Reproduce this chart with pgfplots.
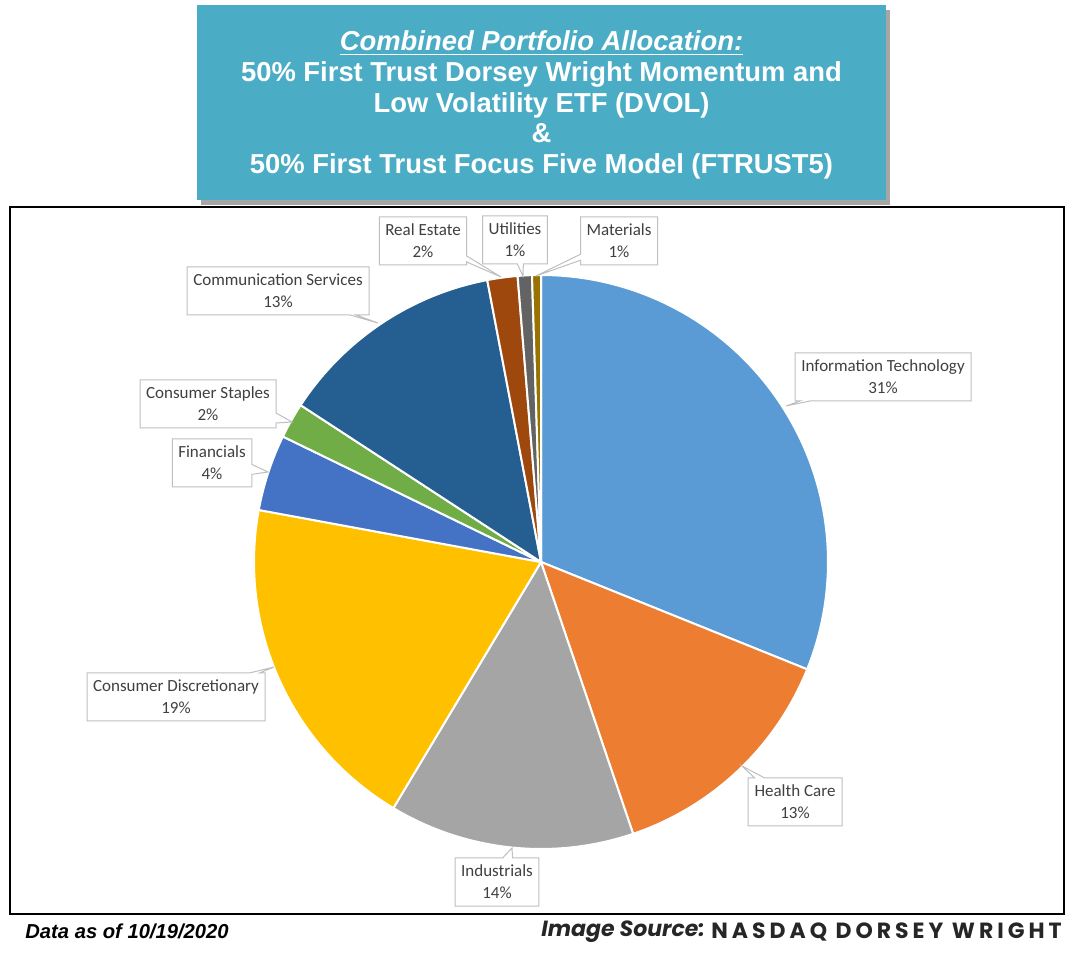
\documentclass[border=0pt]{standalone}
\usepackage{fontspec}
\setmainfont{Carlito}
\newfontfamily\arialf{Liberation Sans}
\newfontfamily\popf{Poppins}
\newfontfamily\popsp[LetterSpace=18]{Poppins}
\usepackage{pgfplots}
\pgfplotsset{compat=1.18}
\usetikzlibrary{shapes.callouts}
\definecolor{cIT}{HTML}{5B9BD5}
\definecolor{cHC}{HTML}{ED7D31}
\definecolor{cIND}{HTML}{A5A5A5}
\definecolor{cCD}{HTML}{FFC000}
\definecolor{cFIN}{HTML}{4472C4}
\definecolor{cCS}{HTML}{70AD47}
\definecolor{cCOM}{HTML}{255E91}
\definecolor{cRE}{HTML}{9E480E}
\definecolor{cUT}{HTML}{636363}
\definecolor{cMAT}{HTML}{997300}
\definecolor{titlebg}{HTML}{4BACC6}
\definecolor{lbltext}{HTML}{404040}
\definecolor{lblbox}{HTML}{BFBFBF}
% #1 cumulative start (%), #2 share (%), #3 colour
\newcommand\slice[3]{%
  \addplot[draw=white, line width=1pt, fill=#3, domain=90-3.6*(#1+#2):90-3.6*(#1), samples=80]
    ({541+287*cos(x)}, {390+287*sin(x)}) -- (axis cs:541,390) -- cycle;}
\tikzset{lbl/.style={rectangle callout, draw=lblbox, fill=white, text=lbltext, align=center,
  font=\fontsize{8.5}{11}\selectfont, inner xsep=3pt, inner ysep=1.5pt, minimum height=24pt,
  callout pointer width=5pt, line width=0.5pt}}
\begin{document}
\begin{tikzpicture}
\begin{axis}[at={(0,0)}, anchor=south west, width=540pt, height=476pt, scale only axis,
  xmin=0, xmax=1080, ymin=0, ymax=952, hide axis, clip=false]
\path (axis cs:0,0) rectangle (axis cs:1080,952);
% frame
\draw[black, line width=1.3pt] (axis cs:10,38) rectangle (axis cs:1064,745);
% pie slices (share in percent, clockwise from 12 o'clock)
\slice{0}{31.1}{cIT}
\slice{31.1}{13.7}{cHC}
\slice{44.8}{13.8}{cIND}
\slice{58.6}{19.3}{cCD}
\slice{77.9}{4.3}{cFIN}
\slice{82.2}{2.0}{cCS}
\slice{84.2}{12.8}{cCOM}
\slice{97.0}{1.7}{cRE}
\slice{98.7}{0.8}{cUT}
\slice{99.5}{0.5}{cMAT}
% labels
\node[lbl, minimum width=88pt, callout absolute pointer={(axis cs:786,546)}] at (axis cs:883,575) {Information Technology\\31\%};
\node[lbl, minimum width=47pt, callout absolute pointer={(axis cs:742,186)}] at (axis cs:795,150) {Health Care\\13\%};
\node[lbl, minimum width=41pt, callout absolute pointer={(axis cs:512,104)}] at (axis cs:497,70) {Industrials\\14\%};
\node[lbl, minimum width=89pt, callout absolute pointer={(axis cs:274,285)}] at (axis cs:176,255) {Consumer Discretionary\\19\%};
\node[lbl, minimum width=39pt, callout absolute pointer={(axis cs:268,480)}] at (axis cs:212,489) {Financials\\4\%};
\node[lbl, minimum width=68pt, callout absolute pointer={(axis cs:292,530)}] at (axis cs:208,548) {Consumer Staples\\2\%};
\node[lbl, minimum width=91pt, callout pointer width=3pt, callout absolute pointer={(axis cs:378,629)}] at (axis cs:278,661) {Communication Services\\13\%};
\node[lbl, minimum width=43pt, callout pointer width=3pt, callout absolute pointer={(axis cs:501,675)}] at (axis cs:423,711) {Real Estate\\2\%};
\node[lbl, minimum width=32pt, callout pointer width=3pt, callout absolute pointer={(axis cs:523,676)}] at (axis cs:515,712) {Utilities\\1\%};
\node[lbl, minimum width=37pt, callout pointer width=3pt, callout absolute pointer={(axis cs:536,676)}] at (axis cs:619,711) {Materials\\1\%};
% title box
\fill[black!35] (axis cs:201,747) rectangle (axis cs:890,942);
\fill[titlebg] (axis cs:197,752) rectangle (axis cs:886,947);
\node[text=white, align=center, font=\arialf\bfseries\fontsize{13.7}{15.3}\selectfont] at (axis cs:541.5,847)
  {\textit{\underline{Combined Portfolio Allocation:}}\\50\% First Trust Dorsey Wright Momentum and\\Low Volatility ETF (DVOL)\\\&\\50\% First Trust Focus Five Model (FTRUST5)};
% footer
\node[anchor=west, inner sep=0pt, font=\arialf\bfseries\itshape\fontsize{10.1}{11}\selectfont] at (axis cs:25,21) {Data as of 10/19/2020};
\node[anchor=west, inner sep=0pt, text=black!85, font=\popf\bfseries\itshape\fontsize{11}{12}\selectfont] at (axis cs:541,20) {Image Source:};
\node[anchor=east, inner sep=0pt, text=black!85, font=\popsp\bfseries\fontsize{11}{12}\selectfont] at (axis cs:1062,20) {NASDAQ DORSEY WRIGHT};
\end{axis}
\end{tikzpicture}
\end{document}
